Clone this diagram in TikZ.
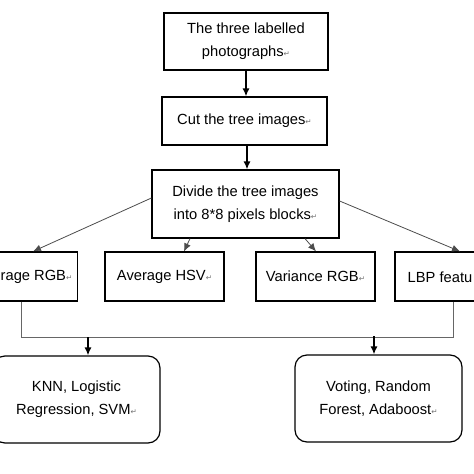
\documentclass[tikz,border=0pt]{standalone}
\usepackage{fontspec}
\setmainfont{Liberation Sans}
\newfontfamily\symfont{DejaVu Sans}
\usetikzlibrary{calc,arrows.meta}
\newcommand{\retmark}{{\symfont\fontsize{7.5}{7.5}\selectfont\color{black!55}↵}}

\begin{document}
\begin{tikzpicture}[x=1pt,y=-1pt,
  box/.style={draw,line width=1.2pt,align=center,inner sep=0pt,font=\fontsize{14.7}{23}\selectfont},
  algo/.style={box,rounded corners=12pt},
  txt/.style={inner sep=0pt,font=\fontsize{14.7}{23}\selectfont},
  arr/.style={line width=1.4pt,-{Latex[length=8pt,width=7pt]}},
  thinarr/.style={line width=0.8pt,draw=black!70,-{Latex[length=8pt,width=7pt]}},
  bus/.style={line width=0.9pt,draw=black!60}]
                      \useasboundingbox (0,0) rectangle (474,474);
                      \clip (0,0) rectangle (474,474);
                      \node[box,minimum width=164pt,minimum height=57pt](photo)at(246,41.5){The three labelled\\photographs\retmark};
                      \node[box,minimum width=165pt,minimum height=48pt](cut)at(244.5,121){Cut the tree images\retmark};
                      \node[box,minimum width=187pt,minimum height=68pt](div)at(245.5,204){Divide the tree images\\into 8*8 pixels blocks\retmark};
                      \node[box,minimum width=119pt,minimum height=49pt](rgb)at(18,276.5){};
                      \node[txt,anchor=west](rgbtext)at(0.5,277){rage RGB\retmark};
                      \node[box,minimum width=119pt,minimum height=49pt](hsv)at(164.5,276.5){Average HSV\retmark};
                      \node[box,minimum width=119pt,minimum height=49pt](var)at(315.5,276.5){Variance RGB\retmark};
                      \node[box,minimum width=119pt,minimum height=49pt](lbp)at(454.5,276.5){};
                      \node[txt,anchor=east](lbptext)at(472.5,277){LBP featu};
                      \node[algo,minimum width=167pt,minimum height=87pt](knn)at(76.5,399.5){KNN, Logistic\\Regression, SVM\retmark};
                      \node[algo,minimum width=167pt,minimum height=87pt](vote)at(378.5,398.5){Voting, Random\\Forest, Adaboost\retmark};
                      \draw[arr] (photo.south) -- (photo.south |- cut.north);
                      \draw[arr] ($(cut.south)+(2.5,0)$) -- ($(cut.south |- div.north)+(2.5,0)$);
                      \draw[thinarr] ($(div.west)+(0,-6)$) -- ($(rgb.north)+(15,0)$);
                      \draw[thinarr] ($(div.south)+(-55.5,0)$) -- ($(hsv.north)+(19.5,0)$);
                      \draw[thinarr] ($(div.south)+(59.5,0)$) -- ($(var.north)+(0.5,0)$);
                      \draw[thinarr] ($(div.east)+(0,-3)$) -- ($(lbp.north)+(5.5,0)$);
                      \draw[bus] ($(rgb.south)+(3,0)$) -- ++(0,36) -- ($(lbp.south)+(-1.5,36)$) -- ($(lbp.south)+(-1.5,0)$);
                      \draw[arr] ($(knn.north)+(11.5,-18)$) -- ($(knn.north)+(11.5,0)$);
                      \draw[arr] ($(vote.north)+(-4.5,-18)$) -- ($(vote.north)+(-4.5,0)$);
                  \end{tikzpicture}
\end{document}
